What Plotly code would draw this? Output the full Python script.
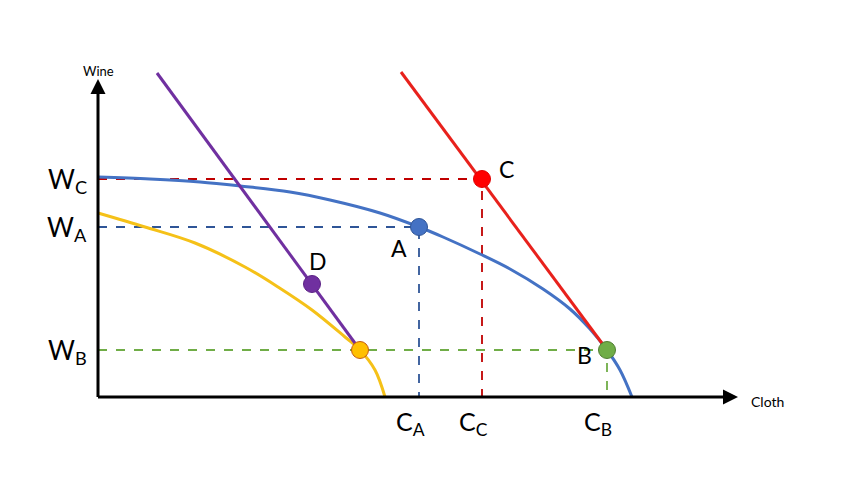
import plotly.graph_objects as go

# Frontière de production du pays 1 (bleu) et du pays 2 (jaune)
ppf_big_cloth = [0, 52, 102, 142, 192, 232, 282, 321, 345, 382, 412, 445, 472, 492, 509, 522, 534]
ppf_big_wine = [220, 218, 215, 211, 205, 197, 184, 170, 160, 143, 128, 108, 88, 68, 47, 27, 0]

ppf_small_cloth = [0, 47, 97, 147, 180, 214, 247, 262, 277, 287]
ppf_small_wine = [184, 170, 154, 130, 110, 87, 60, 47, 27, 0]

# Droites de prix (termes de l'échange)
trade_red_cloth = [303, 509]
trade_red_wine = [325, 47]
trade_purple_cloth = [59, 262]
trade_purple_wine = [324, 47]

# Points
point_names = ["A", "B", "C", "D", "E"]
point_cloth = [321, 509, 384, 214, 262]
point_wine = [170, 47, 218, 113, 47]
point_colors = ["#4472C4", "#70AD47", "#FF0000", "#7030A0", "#FFC000"]
point_borders = ["#2F5597", "#507E32", "#E00000", "#5B2185", "#C55A11"]

w_labels = ["W<sub>C</sub>", "W<sub>A</sub>", "W<sub>B</sub>"]
w_values = [218, 170, 47]
c_labels = ["C<sub>A</sub>", "C<sub>C</sub>", "C<sub>B</sub>"]
c_values = [321, 384, 509]

FONT = "Lato"

fig = go.Figure()

# lignes pointillées de projection
guides = [
    (384, 218, "#C00000"),
    (321, 170, "#2F5597"),
    (509, 47, "#70AD47"),
]
for gx, gy, col in guides:
    fig.add_trace(go.Scatter(
        x=[0, gx, gx], y=[gy, gy, 0], mode="lines",
        line=dict(color=col, width=1.8, dash="dash"),
        hoverinfo="none", showlegend=False,
    ))

fig.add_trace(go.Scatter(
    x=ppf_big_cloth, y=ppf_big_wine, mode="lines", line_shape="spline",
    line=dict(color="#4472C4", width=3), hoverinfo="none", showlegend=False,
))
fig.add_trace(go.Scatter(
    x=ppf_small_cloth, y=ppf_small_wine, mode="lines", line_shape="spline",
    line=dict(color="#F5C118", width=3), hoverinfo="none", showlegend=False,
))
fig.add_trace(go.Scatter(
    x=trade_red_cloth, y=trade_red_wine, mode="lines",
    line=dict(color="#E8211C", width=3), hoverinfo="none", showlegend=False,
))
fig.add_trace(go.Scatter(
    x=trade_purple_cloth, y=trade_purple_wine, mode="lines",
    line=dict(color="#7030A0", width=3), hoverinfo="none", showlegend=False,
))

fig.add_trace(go.Scatter(
    x=point_cloth, y=point_wine, mode="markers",
    marker=dict(size=17, color=point_colors,
                line=dict(color=point_borders, width=1)),
    text=point_names, hoverinfo="text", showlegend=False,
))

# axes avec flèches
fig.add_annotation(x=0, y=318, ax=0, ay=-1.5, xref="x", yref="y", axref="x", ayref="y",
                   showarrow=True, arrowhead=2, arrowsize=1, arrowwidth=3,
                   arrowcolor="black", text="")
fig.add_annotation(x=640, y=0, ax=-1.5, ay=0, xref="x", yref="y", axref="x", ayref="y",
                   showarrow=True, arrowhead=2, arrowsize=1, arrowwidth=3,
                   arrowcolor="black", text="")
fig.add_annotation(x=0, y=326, text="Wine", showarrow=False,
                   font=dict(family=FONT, size=13, color="black"))
fig.add_annotation(x=651, y=-4, text="Cloth", showarrow=False, xanchor="left",
                   font=dict(family=FONT, size=14, color="black"))

for lab, val in zip(w_labels, w_values):
    fig.add_annotation(x=-9, y=val - 1, text=lab, showarrow=False, xanchor="right",
                       font=dict(family=FONT, size=26, color="black"))
for lab, val in zip(c_labels, c_values):
    fig.add_annotation(x=val - 9, y=-26, text=lab, showarrow=False,
                       font=dict(family=FONT, size=25, color="black"))

# étiquettes des points
label_offsets = {"A": (-20, -21), "B": (-23, -5), "C": (24, 10), "D": (6, 23)}
for n, px, py in zip(point_names, point_cloth, point_wine):
    if n in label_offsets:
        dx, dy = label_offsets[n]
        fig.add_annotation(x=px + dx, y=py + dy, text=n, showarrow=False,
                           font=dict(family=FONT, size=23, color="black"))

# la page ajoute une marge de 8 px : on décale les plages d'autant
fig.update_layout(
    width=853, height=480,
    margin=dict(l=0, r=0, t=0, b=0),
    plot_bgcolor="white", paper_bgcolor="white",
    xaxis=dict(range=[-90, 763], visible=False, fixedrange=True),
    yaxis=dict(range=[-91, 389], visible=False, fixedrange=True),
)
fig.write_html("out.html")
